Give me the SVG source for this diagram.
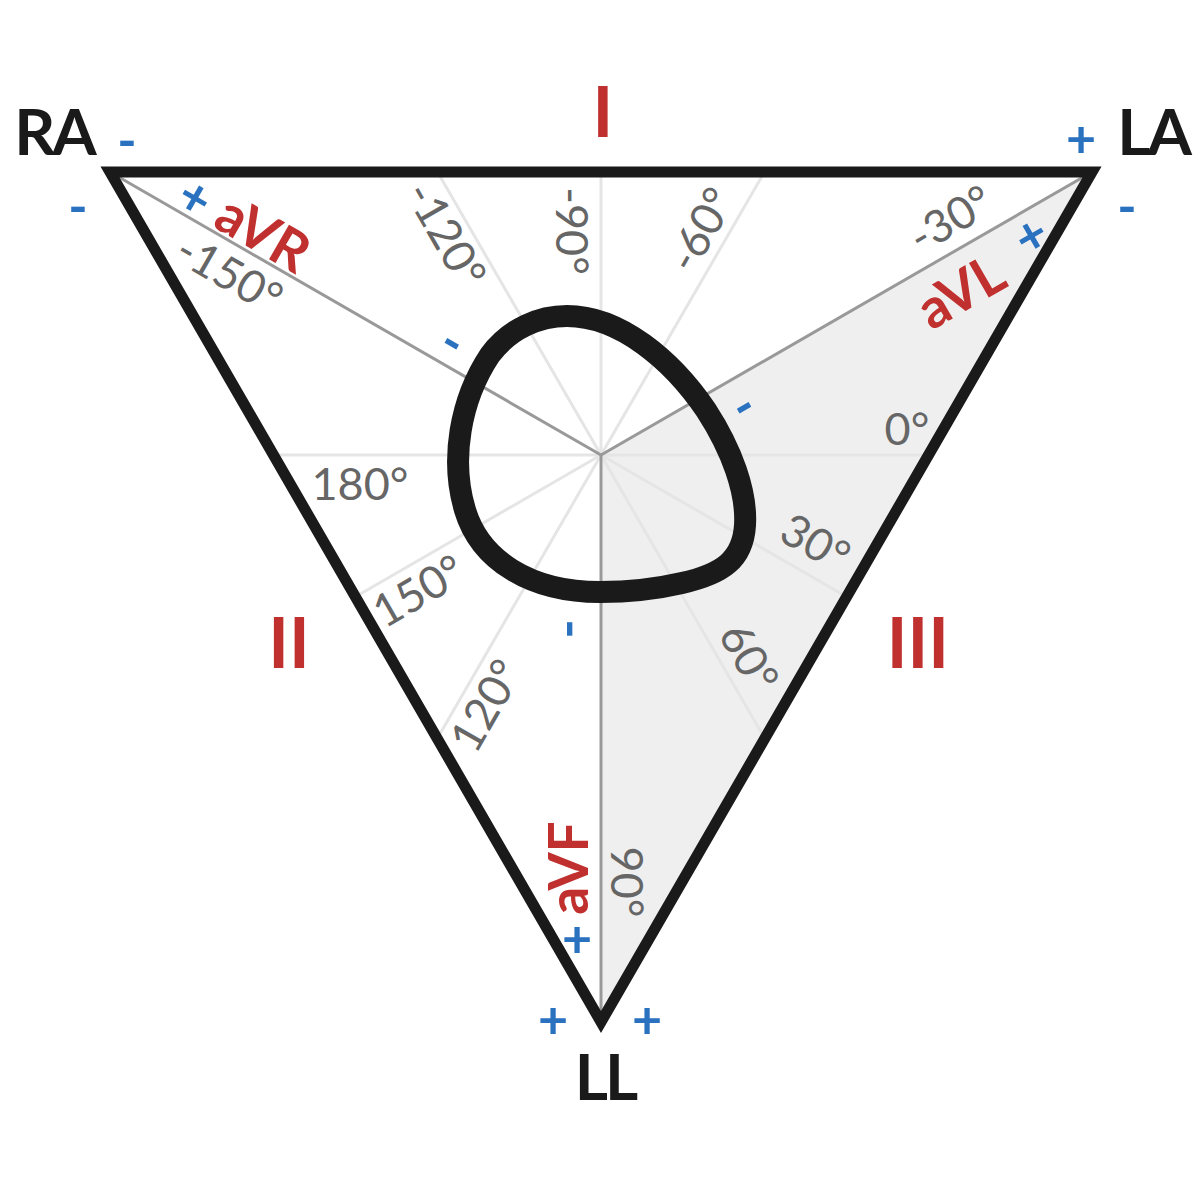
<svg xmlns="http://www.w3.org/2000/svg" width="1200" height="1200" viewBox="0 0 1200 1200">
<style>
.bg{fill:#ffffff}
.shade{fill:#efefef}
.tri{fill:none;stroke:#1a1a1a;stroke-width:11;stroke-linejoin:miter;stroke-miterlimit:10}
.lead{stroke:#999999;stroke-width:3;fill:none}
.ref{stroke:#e5e5e5;stroke-width:3;fill:none}
.heart{fill:none;stroke:#1a1a1a;stroke-width:22}
.deg{font-family:Lato,"Liberation Sans",sans-serif;font-weight:400;font-size:45px;fill:#666666;text-anchor:middle;dominant-baseline:central}
.lbl{font-family:Lato,"Liberation Sans",sans-serif;font-weight:bold;font-size:55px;fill:#c0302f;text-anchor:middle;dominant-baseline:central}
.rom{font-family:Lato,"Liberation Sans",sans-serif;font-weight:bold;font-size:70px;fill:#c0302f;text-anchor:middle;dominant-baseline:central}
.lim{font-family:Lato,"Liberation Sans",sans-serif;font-weight:bold;font-size:64px;fill:#1a1a1a;text-anchor:middle;dominant-baseline:central;letter-spacing:-3px}
.sgn{font-family:Lato,"Liberation Sans",sans-serif;font-weight:bold;font-size:52px;fill:#2a72c0;text-anchor:middle;dominant-baseline:central}
</style>
<rect class="bg" x="0" y="0" width="1200" height="1200"/>
<polygon class="shade" points="601,455 1092,172 601,1022"/>
<g id="connectors">
  <line class="ref" x1="601" y1="455" x2="928.5" y2="455"/>
  <line class="ref" x1="601" y1="455" x2="273.5" y2="455"/>
  <line class="ref" x1="601" y1="455" x2="601" y2="172"/>
  <line class="ref" x1="601" y1="455" x2="764.5" y2="172"/>
  <line class="ref" x1="601" y1="455" x2="437.5" y2="172"/>
  <line class="ref" x1="601" y1="455" x2="846.5" y2="596.7"/>
  <line class="ref" x1="601" y1="455" x2="764.7" y2="738.5"/>
  <line class="ref" x1="601" y1="455" x2="437.3" y2="738.5"/>
  <line class="ref" x1="601" y1="455" x2="355.5" y2="596.7"/>
  <line class="lead" x1="601" y1="455" x2="110" y2="172"/>
  <line class="lead" x1="601" y1="455" x2="1092" y2="172"/>
  <line class="lead" x1="601" y1="455" x2="601" y2="1022"/>
</g>
<g id="triangle">
  <polygon class="tri" points="110,172 1092,172 601,1022"/>
</g>
<g id="heart">
  <path class="heart" d="M 567 316 C 620 316, 672 360, 706 410 C 732 450, 747 492, 745 525 C 743 560, 722 574, 682 583 C 652 590, 622 592, 600 592 C 530 592, 480 560, 465 510 C 450 460, 460 400, 490 355 C 510 328, 540 316, 567 316 Z"/>
</g>
<g id="limbs">
  <text class="lim" x="54" y="130">RA</text>
  <text class="lim" x="1153" y="130">LA</text>
  <text class="lim" x="605" y="1075">LL</text>
</g>
<g id="leads">
  <text class="rom" x="603" y="110">I</text>
  <text class="rom" x="289" y="641">II</text>
  <text class="rom" x="918" y="641">III</text>
  <text class="lbl" transform="translate(264,232) rotate(30)">aVR</text>
  <text class="lbl" transform="translate(960,290) rotate(-30)">aVL</text>
  <text class="lbl" transform="translate(567,868) rotate(-90)">aVF</text>
</g>
<g id="degrees">
  <text class="deg" transform="translate(230,273) rotate(30)">-150°</text>
  <text class="deg" transform="translate(447,234) rotate(60)">-120°</text>
  <text class="deg" transform="translate(573,231) rotate(90)">-90°</text>
  <text class="deg" transform="translate(700,229) rotate(-60)">-60°</text>
  <text class="deg" transform="translate(950,218) rotate(-30)">-30°</text>
  <text class="deg" x="907" y="428">0°</text>
  <text class="deg" transform="translate(816,542) rotate(30)">30°</text>
  <text class="deg" transform="translate(750,657) rotate(60)">60°</text>
  <text class="deg" transform="translate(628,882) rotate(90)">90°</text>
  <text class="deg" transform="translate(485,705) rotate(-60)">120°</text>
  <text class="deg" transform="translate(418,590) rotate(-30)">150°</text>
  <text class="deg" x="360" y="483">180°</text>
</g>
<g id="signs">
  <text class="sgn" x="127" y="139">-</text>
  <text class="sgn" x="78" y="205">-</text>
  <text class="sgn" transform="translate(196,196) rotate(30)">+</text>
  <text class="sgn" x="1081" y="137">+</text>
  <text class="sgn" x="1127" y="205">-</text>
  <text class="sgn" transform="translate(1030,234) rotate(-30)">+</text>
  <text class="sgn" transform="translate(454,340) rotate(30)">-</text>
  <text class="sgn" transform="translate(742,404) rotate(-30)">-</text>
  <text class="sgn" transform="translate(574,629) rotate(90)">-</text>
  <text class="sgn" x="577" y="937">+</text>
  <text class="sgn" x="553" y="1018">+</text>
  <text class="sgn" x="647" y="1018">+</text>
</g>
</svg>
